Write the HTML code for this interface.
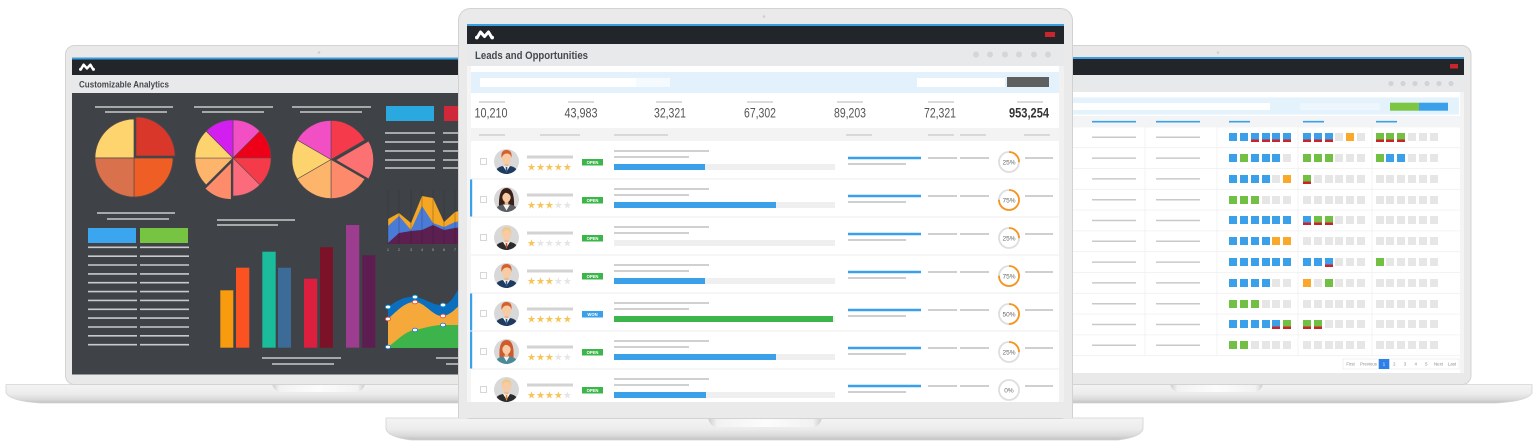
<!DOCTYPE html>
<html><head><meta charset="utf-8">
<style>
html,body{margin:0;padding:0;background:#fff;}
#root{position:relative;width:1536px;height:448px;overflow:hidden;background:#fff;}
#root>svg{position:absolute;left:0;top:0;}
.st{font-family:"DejaVu Sans",sans-serif;font-size:10px;fill:#f6c55a}
.sg{fill:#e6e6e6}
.bd{font-family:"Liberation Sans",sans-serif;font-size:4.2px;font-weight:bold;fill:#fff;text-anchor:middle}
.pc{font-family:"Liberation Sans",sans-serif;font-size:6.5px;fill:#666;text-anchor:middle}
.rg{position:absolute;left:1229.3px;top:133.3px;}
.rw{position:relative;height:20.8px;}
.gp{position:absolute;top:0;left:0;display:flex;gap:2.8px;}
.gp+.gp{left:73.7px}
.gp+.gp+.gp{left:146.4px}
.gp i{display:block;width:8px;height:8px;background:#e6e6e6;}
.gp i.b{background:#3aa0ea}
.gp i.g{background:#72c043}
.gp i.o{background:#f9a82a}
.gp i.u{box-shadow:inset 0 -1.5px #cc2229,0 1px #cc2229}
</style></head><body><div id="root">
<svg width="1536" height="448" viewBox="0 0 1536 448" xmlns="http://www.w3.org/2000/svg">
<defs>
<linearGradient id="bg" x1="0" y1="0" x2="0" y2="1">
<stop offset="0" stop-color="#f4f4f4"/><stop offset="0.5" stop-color="#ececec"/><stop offset="0.8" stop-color="#dadada"/><stop offset="1" stop-color="#c0c0c0"/>
</linearGradient>
<linearGradient id="nt" x1="0" y1="0" x2="1" y2="0">
<stop offset="0" stop-color="#cdcdcd"/><stop offset="0.08" stop-color="#f2f2f2"/><stop offset="0.5" stop-color="#fcfcfc"/><stop offset="0.92" stop-color="#f2f2f2"/><stop offset="1" stop-color="#cdcdcd"/>
</linearGradient>
<clipPath id="ac"><circle cx="0" cy="0" r="12.5"/></clipPath>
</defs>

<!-- ============ LEFT LAPTOP ============ -->
<path d="M6 384.5 H470 V403 H40 Q10 401 6 393 Z" fill="url(#bg)" stroke="#d4d4d4" stroke-width="0.8"/>
<path d="M272 384.5 H365 Q363 391 357 392 H280 Q274 391 272 384.5Z" fill="url(#nt)"/>
<rect x="65.5" y="45.5" width="420" height="339" rx="9" fill="#e9e9e9" stroke="#d3d3d3"/>
<circle cx="319" cy="52.5" r="1.3" fill="#cfcfcf"/>
<rect x="72" y="57.5" width="400" height="2" fill="#3a9fe0"/>
<rect x="72" y="59.5" width="400" height="15.5" fill="#222529"/>
<g transform="translate(79,63) scale(0.84)">
<path d="M2.5 7 L5.5 2 L9.5 6.5 L13.5 2 L16.5 7" fill="none" stroke="#fff" stroke-width="3" stroke-linejoin="round" stroke-linecap="round"/>
<circle cx="1.8" cy="7.6" r="1.8" fill="#fff"/><circle cx="17.2" cy="7.6" r="1.8" fill="#fff"/>
</g>
<rect x="72" y="75" width="400" height="18" fill="#e8e9eb"/>
<text x="79" y="87.5" font-family="Liberation Sans, sans-serif" font-size="9.5" font-weight="bold" fill="#45484c" textLength="90" lengthAdjust="spacingAndGlyphs">Customizable Analytics</text>
<rect x="72" y="93" width="400" height="281.5" fill="#3f4247"/>

<!-- lines -->
<path d="M95 107H173M105 112H167M194 107H273M202 112H264M292 107H371M300 112H362
M385 133H435M385 142H435M385 151H435M385 160H435M385 168H435
M443 133H470M443 142H470M443 151H470M443 160H470M443 168H470
M97 213H175M107 219H169M217 220H295M217 225H278
M88 247.3H137M140 247.3H189M88 256.2H137M140 256.2H189M88 265H137M140 265H189M88 273.9H137M140 273.9H189
M88 282.7H137M140 282.7H189M88 291.6H137M140 291.6H189M88 300.4H137M140 300.4H189M88 309.3H137M140 309.3H189
M88 318.1H137M140 318.1H189M88 327H137M140 327H189M88 335.8H137M140 335.8H189M88 344.7H137M140 344.7H189
M262 358H341M272 364H334M436 358H470M446 364H470" stroke="#c8c9cb" stroke-width="1.6" fill="none"/>

<!-- pie 1 -->
<g stroke="#5a4a48" stroke-width="0.7">
<path d="M134 158 L95 158 A39 39 0 0 1 134 119Z" fill="#fdd46e"/>
<path d="M134 158 L173 158 A39 39 0 0 1 134 197Z" fill="#ee5e25"/>
<path d="M134 158 L134 197 A39 39 0 0 1 95 158Z" fill="#d9714c"/>
<path d="M136 156 L136 117 A39 39 0 0 1 175 156Z" fill="#d8372a"/>
</g>
<!-- pie 2 -->
<g stroke="#5a4a4c" stroke-width="0.6">
<path d="M233 158 L233 120 A38 38 0 0 1 259.87 131.13Z" fill="#f24fc5"/>
<path d="M233 158 L259.87 131.13 A38 38 0 0 1 271 158Z" fill="#ef0019"/>
<path d="M233 158 L271 158 A38 38 0 0 1 259.87 184.87Z" fill="#f53a4a"/>
<path d="M233 158 L259.87 184.87 A38 38 0 0 1 233 196Z" fill="#fb6b7b"/>
<path d="M233 158 L206.13 184.87 A38 38 0 0 1 195 158Z" fill="#fdb56b"/>
<path d="M233 158 L195 158 A38 38 0 0 1 206.13 131.13Z" fill="#fdd36e"/>
<path d="M233 158 L206.13 131.13 A38 38 0 0 1 233 120Z" fill="#d31ef0"/>
</g>
<path d="M231.5 161.7 L231.5 199.7 A38 38 0 0 1 204.63 188.57Z" fill="#fe8c6a" stroke="#3f4247" stroke-width="1.2"/>
<!-- pie 3 -->
<g stroke="#5a4a4c" stroke-width="0.6">
<path d="M331 159.5 L331 120.5 A39 39 0 0 1 364.77 140Z" fill="#f53b4b"/>
<path d="M331 159.5 L364.77 179 A39 39 0 0 1 331 198.5Z" fill="#fd8a6a"/>
<path d="M331 159.5 L331 198.5 A39 39 0 0 1 297.23 179Z" fill="#fdb56b"/>
<path d="M331 159.5 L297.23 179 A39 39 0 0 1 297.23 140Z" fill="#fdd36e"/>
<path d="M331 159.5 L297.23 140 A39 39 0 0 1 331 120.5Z" fill="#f24fc5"/>
</g>
<path d="M335 160 L368.77 140.5 A39 39 0 0 1 368.77 179.5Z" fill="#fc7272" stroke="#3f4247" stroke-width="1.4"/>

<!-- legend rects -->
<rect x="386" y="106" width="48" height="15" fill="#2aa8e0"/>
<rect x="444" y="106" width="26" height="15" fill="#d0283a"/>
<rect x="88" y="228" width="48" height="15" fill="#3ca5ef"/>
<rect x="140" y="228" width="48" height="15" fill="#76c442"/>

<!-- bar chart -->
<rect x="220.3" y="290.3" width="13" height="57.4" fill="#f99b0f"/>
<rect x="236" y="267.7" width="13.3" height="80" fill="#fb5222"/>
<rect x="262.3" y="251.7" width="13.4" height="96" fill="#1abc9c"/>
<rect x="278" y="267.7" width="13" height="80" fill="#3d6b97"/>
<rect x="304" y="278.7" width="13.3" height="69" fill="#dc1f3f"/>
<rect x="320" y="247.3" width="13" height="100.4" fill="#7b1227"/>
<rect x="346" y="225" width="13.3" height="122.7" fill="#9c3d8f"/>
<rect x="362.3" y="255.3" width="13" height="92.4" fill="#5e1d50"/>

<!-- area chart 1 -->
<path d="M388 219 L399 213 L411 223 L422 196 L433 198 L444 222 L455 212 L470 208 V244 H388Z" fill="#f5a623"/>
<path d="M388 226 L399 216 L411 230 L422 206 L433 223 L444 227 L455 222 L470 220 V244 H388Z" fill="#4a7bd6"/>
<path d="M388 243 L399 233 L411 231 L422 230 L433 225 L444 230 L455 228 L470 226 V244 H388Z" fill="#5b1f50"/>
<path d="M388 190V244M399 190V244M411 190V244M422 190V244M433 190V244M444 190V244M455 190V244" stroke="#222428" stroke-opacity="0.45" stroke-width="0.6"/>
<g font-family="Liberation Sans, sans-serif" font-size="4" fill="#aaaaaa" text-anchor="middle">
<text x="388" y="251">1</text><text x="399" y="251">2</text><text x="411" y="251">3</text><text x="422" y="251">4</text><text x="433" y="251">5</text><text x="444" y="251">6</text><text x="455" y="251">7</text>
</g>
<!-- area chart 2 -->
<path d="M388 307 C398 300 405 296 415 297 C425 298 433 306 443 305 C452 304 456 292 464 280 V348 H388Z" fill="#0b6fbf"/>
<path d="M388 319 C398 310 405 302 415 302 C425 302 433 317 443 316 C452 315 458 305 466 300 V348 H388Z" fill="#f6a93b"/>
<path d="M388 347 C398 340 405 331 415 330 C425 328 433 325 443 325 C452 325 460 325 470 325 V348 H388Z" fill="#3cb44b"/>
<g fill="#fff" stroke-width="0.9">
<ellipse cx="388" cy="307" rx="2.6" ry="1.8" stroke="#1a9ad6"/><ellipse cx="415" cy="297" rx="2.6" ry="1.8" stroke="#1a9ad6"/><ellipse cx="443" cy="305" rx="2.6" ry="1.8" stroke="#1a9ad6"/>
<ellipse cx="388" cy="319" rx="2.6" ry="1.8" stroke="#e8503a"/><ellipse cx="415" cy="302" rx="2.6" ry="1.8" stroke="#e8503a"/><ellipse cx="443" cy="316" rx="2.6" ry="1.8" stroke="#e8503a"/>
<ellipse cx="388" cy="347" rx="2.6" ry="1.8" stroke="#2a7ad0"/><ellipse cx="415" cy="330" rx="2.6" ry="1.8" stroke="#2a7ad0"/><ellipse cx="443" cy="325" rx="2.6" ry="1.8" stroke="#2a7ad0"/>
</g>

<!-- ============ RIGHT LAPTOP ============ -->
<path d="M1060 384.5 H1532 V393 Q1528 401 1496 403 H1060Z" fill="url(#bg)" stroke="#d4d4d4" stroke-width="0.8"/>
<path d="M1170 384.5 H1263 Q1261 391 1255 392 H1178 Q1172 391 1170 384.5Z" fill="url(#nt)"/>
<rect x="1050.5" y="45.5" width="420.5" height="339" rx="9" fill="#e9e9e9" stroke="#d3d3d3"/>
<circle cx="1218" cy="52.5" r="1.3" fill="#cfcfcf"/>
<rect x="1055" y="57" width="409" height="2" fill="#3a9fe0"/>
<rect x="1055" y="59" width="409" height="16" fill="#222529"/>
<rect x="1450" y="64" width="8" height="4.5" fill="#c9252c"/>
<rect x="1055" y="75" width="409" height="17" fill="#e8e9eb"/>
<g fill="#d2d3d5"><circle cx="1391" cy="83.5" r="2.6"/><circle cx="1403" cy="83.5" r="2.6"/><circle cx="1415" cy="83.5" r="2.6"/><circle cx="1427" cy="83.5" r="2.6"/><circle cx="1439" cy="83.5" r="2.6"/><circle cx="1451" cy="83.5" r="2.6"/></g>
<rect x="1055" y="92" width="409" height="281" fill="#fff"/>
<rect x="1460" y="92" width="4" height="281" fill="#f4f4f4"/>
<rect x="1055" y="97.5" width="404" height="17" fill="#e3f2fb"/>
<rect x="1055" y="103" width="215" height="7" fill="#fff"/>
<rect x="1300" y="103" width="80" height="7" fill="#edf6fc"/>
<rect x="1390" y="102.7" width="29" height="8" fill="#7cc644"/>
<rect x="1419" y="102.7" width="29" height="8" fill="#3aa0ea"/>
<rect x="1055" y="116" width="405" height="11.5" fill="#f3f4f5"/>
<path d="M1092 121.7h44M1156 121.7h44M1229 121.7h21M1303 121.7h21M1376 121.7h21" stroke="#3aa0ea" stroke-width="1.6"/>
<path d="M1145 127.5V356M1217 127.5V356M1298 127.5V356M1372 127.5V356" stroke="#f0f0f0" stroke-width="0.8"/>
<path d="M1060 147.7H1460M1060 168.5H1460M1060 189.3H1460M1060 210.1H1460M1060 230.9H1460M1060 251.7H1460M1060 272.5H1460M1060 293.3H1460M1060 314.1H1460M1060 334.9H1460M1060 355.7H1460" stroke="#f0f0f0" stroke-width="0.8"/>
<path d="M1092 137.3h44M1156 137.3h44M1092 158.1h44M1156 158.1h44M1092 178.9h44M1156 178.9h44M1092 199.7h44M1156 199.7h44M1092 220.5h44M1156 220.5h44M1092 241.3h44M1156 241.3h44M1092 262.1h44M1156 262.1h44M1092 282.9h44M1156 282.9h44M1092 303.7h44M1156 303.7h44M1092 324.5h44M1156 324.5h44M1092 345.3h44M1156 345.3h44" stroke="#c9c9c9" stroke-width="1.5"/>
<rect x="1343" y="359" width="116" height="10" fill="#fff" stroke="#e6e6e6" stroke-width="0.6"/>
<rect x="1378.7" y="359" width="10.6" height="10" fill="#2f7fe8"/>
<g font-family="Liberation Sans, sans-serif" font-size="4.3" fill="#8a8a8a" text-anchor="middle">
<text x="1350.5" y="365.5">First</text><text x="1368.5" y="365.5">Previous</text><text x="1384" y="365.5" fill="#fff">1</text><text x="1394.3" y="365.5">2</text><text x="1405" y="365.5">3</text><text x="1415.7" y="365.5">4</text><text x="1426.3" y="365.5">5</text><text x="1438.5" y="365.5">Next</text><text x="1452" y="365.5">Last</text>
</g>

<!-- ============ CENTER LAPTOP ============ -->
<path d="M386 418 H1143 V429 Q1141 437 1118 440 H411 Q388 437 386 429Z" fill="url(#bg)" stroke="#d2d2d2" stroke-width="0.8"/>
<path d="M708 418 H822 Q820 426 814 427 H716 Q710 426 708 418Z" fill="url(#nt)"/>
<rect x="458.5" y="8.5" width="614" height="410" rx="12" fill="#eaeaea" stroke="#d2d2d2"/>
<circle cx="764" cy="16.5" r="1.3" fill="#cfcfcf"/>
<rect x="467" y="24" width="597" height="2" fill="#3a9fe0"/>
<rect x="467" y="26" width="597" height="18" fill="#222529"/>
<g transform="translate(475,30)">
<path d="M2.5 7 L5.5 2 L9.5 6.5 L13.5 2 L16.5 7" fill="none" stroke="#fff" stroke-width="3" stroke-linejoin="round" stroke-linecap="round"/>
<circle cx="1.8" cy="7.6" r="1.8" fill="#fff"/><circle cx="17.2" cy="7.6" r="1.8" fill="#fff"/>
</g>
<rect x="1045" y="32" width="10" height="5" fill="#c9252c"/>
<rect x="467" y="44" width="597" height="22" fill="#e8e9eb"/>
<text x="475" y="59" font-family="Liberation Sans, sans-serif" font-size="11" font-weight="bold" fill="#45484c" textLength="113" lengthAdjust="spacingAndGlyphs">Leads and Opportunities</text>
<g fill="#d5d6d8"><circle cx="976" cy="54.5" r="3"/><circle cx="990" cy="54.5" r="3"/><circle cx="1005" cy="54.5" r="3"/><circle cx="1019" cy="54.5" r="3"/><circle cx="1034" cy="54.5" r="3"/><circle cx="1048" cy="54.5" r="3"/></g>
<rect x="467" y="66" width="597" height="336" fill="#fff"/>
<rect x="467" y="66" width="4" height="336" fill="#f5f5f5"/>
<rect x="1059" y="66" width="5" height="336" fill="#f1f1f1"/>
<rect x="471" y="72" width="588" height="21" fill="#e2f1fb"/>
<rect x="480" y="78" width="156" height="9" fill="#fff"/>
<rect x="636" y="78" width="34" height="9" fill="#f4fafe"/>
<rect x="917" y="78" width="88" height="9" fill="#fff"/>
<rect x="1007" y="77" width="42" height="10" fill="#5f5f5f"/>
<path d="M479 102h26M568 102h26M656 102h26M747 102h26M837 102h26M928 102h26M1017 102h26" stroke="#cfcfcf" stroke-width="1.6"/>
<g font-family="Liberation Sans, sans-serif" font-size="14" fill="#555">
<text x="474.5" y="117.5" textLength="33" lengthAdjust="spacingAndGlyphs">10,210</text>
<text x="564.5" y="117.5" textLength="33" lengthAdjust="spacingAndGlyphs">43,983</text>
<text x="654" y="117.5" textLength="32" lengthAdjust="spacingAndGlyphs">32,321</text>
<text x="744" y="117.5" textLength="32" lengthAdjust="spacingAndGlyphs">67,302</text>
<text x="834" y="117.5" textLength="32" lengthAdjust="spacingAndGlyphs">89,203</text>
<text x="924" y="117.5" textLength="32" lengthAdjust="spacingAndGlyphs">72,321</text>
<text x="1009" y="117.5" font-weight="bold" fill="#333" textLength="40" lengthAdjust="spacingAndGlyphs">953,254</text>
</g>
<rect x="471" y="128" width="588" height="13" fill="#f3f3f3"/>
<path d="M479 135h26M540 135h40M614 135h54M846 135h26M928 135h26M960 135h26M1024 135h26" stroke="#d0d0d0" stroke-width="1.5"/>

<!-- Row 1 -->
<g transform="translate(0,141)">
<rect x="480.5" y="17.5" width="6" height="6" fill="#fff" stroke="#cdcdcd" stroke-width="0.8"/>
<g transform="translate(506.5,20.5)"><circle r="12.5" fill="#d8d8d8"/><g clip-path="url(#ac)">
<path d="M-12 13 Q-11 5.5 -3.5 4.5 L3.5 4.5 Q11 5.5 12 13Z" fill="#1e3a5f"/><path d="M-3.5 4.5 L0 10 L3.5 4.5Z" fill="#fff"/><path d="M-0.9 5.5 L0.9 5.5 L0.6 11 L-0.6 11Z" fill="#2d5b8f"/>
<rect x="-2" y="0" width="4" height="5" fill="#ecb88e"/><ellipse cx="0" cy="-3" rx="4.6" ry="5.6" fill="#f7cba3"/>
<path d="M-5 -3.5 Q-6 -11.5 0 -11.5 Q6 -11.5 5 -3.5 Q4.5 -7.5 1 -8 Q-3 -8.5 -5 -3.5Z" fill="#d6602c"/></g></g>
<path d="M527 16h46" stroke="#d3d3d3" stroke-width="3"/>
<text x="527" y="29.5" class="st">★★★★★</text>
<rect x="582" y="18" width="21" height="6.5" fill="#3cb54a"/><text x="592.5" y="22.8" class="bd">OPEN</text>
<path d="M614 10h95M614 16h75" stroke="#d0d0d0" stroke-width="2"/>
<rect x="614" y="23" width="221" height="6" fill="#efefef"/><rect x="614" y="23" width="91" height="6" fill="#3aa0ea"/>
<path d="M848 17h73" stroke="#3aa0ea" stroke-width="2.5"/>
<path d="M848 23h58M928 17h29M960 17h29M1025 17h28" stroke="#cfcfcf" stroke-width="2"/>
<circle cx="1009" cy="21" r="10" fill="#fff" stroke="#dedede" stroke-width="1.8"/>
<circle cx="1009" cy="21" r="10" fill="none" stroke="#f7941d" stroke-width="1.8" stroke-dasharray="15.7 62.8" transform="rotate(-90 1009 21)"/>
<text x="1009" y="23.3" class="pc">25%</text>
<path d="M471 38h588" stroke="#eeeeee"/>
</g>

<!-- Row 2 -->
<g transform="translate(0,179)">
<rect x="470" y="0.5" width="2.2" height="37" fill="#3aa0ea"/>
<rect x="480.5" y="17.5" width="6" height="6" fill="#fff" stroke="#cdcdcd" stroke-width="0.8"/>
<g transform="translate(506.5,20.5)"><circle r="12.5" fill="#d8d8d8"/><g clip-path="url(#ac)">
<path d="M-7.5 9 Q-8.5 -11.5 0 -11.5 Q8.5 -11.5 7.5 9Z" fill="#3a2019"/>
<path d="M-12 13 Q-11 6 -3.5 5 L3.5 5 Q11 6 12 13Z" fill="#5a5e63"/><path d="M-3.5 5 L0 11 L3.5 5Z" fill="#f4f4f4"/>
<rect x="-1.8" y="0" width="3.6" height="5.5" fill="#ecb88e"/><ellipse cx="0" cy="-2.5" rx="4.2" ry="5.3" fill="#f7cba3"/>
<path d="M-4.6 -2 Q-5 -9.5 0 -9.5 Q5 -9.5 4.6 -2 Q3 -6.5 -1 -6.8 Q-3.5 -5.5 -4.6 -2Z" fill="#3a2019"/></g></g>
<path d="M527 16h46" stroke="#d3d3d3" stroke-width="3"/>
<text x="527" y="29.5" class="st">★★★<tspan class="sg">★★</tspan></text>
<rect x="582" y="18" width="21" height="6.5" fill="#3cb54a"/><text x="592.5" y="22.8" class="bd">OPEN</text>
<path d="M614 10h95M614 16h75" stroke="#d0d0d0" stroke-width="2"/>
<rect x="614" y="23" width="221" height="6" fill="#efefef"/><rect x="614" y="23" width="162" height="6" fill="#3aa0ea"/>
<path d="M848 17h73" stroke="#3aa0ea" stroke-width="2.5"/>
<path d="M848 23h58M928 17h29M960 17h29M1025 17h28" stroke="#cfcfcf" stroke-width="2"/>
<circle cx="1009" cy="21" r="10" fill="#fff" stroke="#dedede" stroke-width="1.8"/>
<circle cx="1009" cy="21" r="10" fill="none" stroke="#f7941d" stroke-width="1.8" stroke-dasharray="47.1 62.8" transform="rotate(-90 1009 21)"/>
<text x="1009" y="23.3" class="pc">75%</text>
<path d="M471 38h588" stroke="#eeeeee"/>
</g>

<!-- Row 3 -->
<g transform="translate(0,217)">
<rect x="480.5" y="17.5" width="6" height="6" fill="#fff" stroke="#cdcdcd" stroke-width="0.8"/>
<g transform="translate(506.5,20.5)"><circle r="12.5" fill="#d8d8d8"/><g clip-path="url(#ac)">
<path d="M-12 13 Q-11 5.5 -3.5 4.5 L3.5 4.5 Q11 5.5 12 13Z" fill="#2b2b2e"/><path d="M-3.5 4.5 L0 10 L3.5 4.5Z" fill="#fff"/><path d="M-0.9 5.5 L0.9 5.5 L0.6 11 L-0.6 11Z" fill="#d4452a"/>
<rect x="-2" y="0" width="4" height="5" fill="#ecb88e"/><ellipse cx="0" cy="-3" rx="4.6" ry="5.6" fill="#f7cba3"/>
<path d="M-4.8 -3 Q-5.2 -10.5 0 -10.5 Q5.2 -10.5 4.8 -3 Q4 -7 0 -7.5 Q-4 -7 -4.8 -3Z" fill="#eec98a"/></g></g>
<path d="M527 16h46" stroke="#d3d3d3" stroke-width="3"/>
<text x="527" y="29.5" class="st">★<tspan class="sg">★★★★</tspan></text>
<rect x="582" y="18" width="21" height="6.5" fill="#3cb54a"/><text x="592.5" y="22.8" class="bd">OPEN</text>
<path d="M614 10h95M614 16h75" stroke="#d0d0d0" stroke-width="2"/>
<rect x="614" y="23" width="221" height="6" fill="#efefef"/>
<path d="M848 17h73" stroke="#3aa0ea" stroke-width="2.5"/>
<path d="M848 23h58M928 17h29M960 17h29M1025 17h28" stroke="#cfcfcf" stroke-width="2"/>
<circle cx="1009" cy="21" r="10" fill="#fff" stroke="#dedede" stroke-width="1.8"/>
<circle cx="1009" cy="21" r="10" fill="none" stroke="#f7941d" stroke-width="1.8" stroke-dasharray="15.7 62.8" transform="rotate(-90 1009 21)"/>
<text x="1009" y="23.3" class="pc">25%</text>
<path d="M471 38h588" stroke="#eeeeee"/>
</g>

<!-- Row 4 -->
<g transform="translate(0,255)">
<rect x="480.5" y="17.5" width="6" height="6" fill="#fff" stroke="#cdcdcd" stroke-width="0.8"/>
<g transform="translate(506.5,20.5)"><circle r="12.5" fill="#d8d8d8"/><g clip-path="url(#ac)">
<path d="M-12 13 Q-11 5.5 -3.5 4.5 L3.5 4.5 Q11 5.5 12 13Z" fill="#1e3a5f"/><path d="M-3.5 4.5 L0 10 L3.5 4.5Z" fill="#fff"/><path d="M-0.9 5.5 L0.9 5.5 L0.6 11 L-0.6 11Z" fill="#2d5b8f"/>
<rect x="-2" y="0" width="4" height="5" fill="#ecb88e"/><ellipse cx="0" cy="-3" rx="4.6" ry="5.6" fill="#f7cba3"/>
<path d="M-5 -3.5 Q-6 -11.5 0 -11.5 Q6 -11.5 5 -3.5 Q4.5 -7.5 1 -8 Q-3 -8.5 -5 -3.5Z" fill="#d6602c"/></g></g>
<path d="M527 16h46" stroke="#d3d3d3" stroke-width="3"/>
<text x="527" y="29.5" class="st">★★★<tspan class="sg">★★</tspan></text>
<rect x="582" y="18" width="21" height="6.5" fill="#3cb54a"/><text x="592.5" y="22.8" class="bd">OPEN</text>
<path d="M614 10h95M614 16h75" stroke="#d0d0d0" stroke-width="2"/>
<rect x="614" y="23" width="221" height="6" fill="#efefef"/><rect x="614" y="23" width="91" height="6" fill="#3aa0ea"/>
<path d="M848 17h73" stroke="#3aa0ea" stroke-width="2.5"/>
<path d="M848 23h58M928 17h29M960 17h29M1025 17h28" stroke="#cfcfcf" stroke-width="2"/>
<circle cx="1009" cy="21" r="10" fill="#fff" stroke="#dedede" stroke-width="1.8"/>
<circle cx="1009" cy="21" r="10" fill="none" stroke="#f7941d" stroke-width="1.8" stroke-dasharray="47.1 62.8" transform="rotate(-90 1009 21)"/>
<text x="1009" y="23.3" class="pc">75%</text>
<path d="M471 38h588" stroke="#eeeeee"/>
</g>

<!-- Row 5 -->
<g transform="translate(0,293)">
<rect x="470" y="0.5" width="2.2" height="37" fill="#3aa0ea"/>
<rect x="480.5" y="17.5" width="6" height="6" fill="#fff" stroke="#cdcdcd" stroke-width="0.8"/>
<g transform="translate(506.5,20.5)"><circle r="12.5" fill="#d8d8d8"/><g clip-path="url(#ac)">
<path d="M-12 13 Q-11 5.5 -3.5 4.5 L3.5 4.5 Q11 5.5 12 13Z" fill="#1e3a5f"/><path d="M-3.5 4.5 L0 10 L3.5 4.5Z" fill="#fff"/><path d="M-0.9 5.5 L0.9 5.5 L0.6 11 L-0.6 11Z" fill="#2d5b8f"/>
<rect x="-2" y="0" width="4" height="5" fill="#ecb88e"/><ellipse cx="0" cy="-3" rx="4.6" ry="5.6" fill="#f7cba3"/>
<path d="M-5 -3.5 Q-6 -11.5 0 -11.5 Q6 -11.5 5 -3.5 Q4.5 -7.5 1 -8 Q-3 -8.5 -5 -3.5Z" fill="#d6602c"/></g></g>
<path d="M527 16h46" stroke="#d3d3d3" stroke-width="3"/>
<text x="527" y="29.5" class="st">★★★★★</text>
<rect x="582" y="18" width="21" height="6.5" fill="#3aa0ea"/><text x="592.5" y="22.8" class="bd">WON</text>
<path d="M614 10h95M614 16h75" stroke="#d0d0d0" stroke-width="2"/>
<rect x="614" y="23" width="221" height="6" fill="#efefef"/><rect x="614" y="23" width="219" height="6" fill="#3cb54a"/>
<path d="M848 17h73" stroke="#3aa0ea" stroke-width="2.5"/>
<path d="M848 23h58M928 17h29M960 17h29M1025 17h28" stroke="#cfcfcf" stroke-width="2"/>
<circle cx="1009" cy="21" r="10" fill="#fff" stroke="#dedede" stroke-width="1.8"/>
<circle cx="1009" cy="21" r="10" fill="none" stroke="#f7941d" stroke-width="1.8" stroke-dasharray="31.4 62.8" transform="rotate(-90 1009 21)"/>
<text x="1009" y="23.3" class="pc">50%</text>
<path d="M471 38h588" stroke="#eeeeee"/>
</g>

<!-- Row 6 -->
<g transform="translate(0,331)">
<rect x="470" y="0.5" width="2.2" height="37" fill="#3aa0ea"/>
<rect x="480.5" y="17.5" width="6" height="6" fill="#fff" stroke="#cdcdcd" stroke-width="0.8"/>
<g transform="translate(506.5,20.5)"><circle r="12.5" fill="#d8d8d8"/><g clip-path="url(#ac)">
<path d="M-7 6 Q-8 -11.5 0 -11.5 Q8 -11.5 7 6Z" fill="#cf5a2c"/>
<path d="M-12 13 Q-11 6 -3.5 5 L3.5 5 Q11 6 12 13Z" fill="#4b8a98"/><path d="M-3 5 L0 10 L3 5Z" fill="#f4f4f4"/>
<rect x="-1.8" y="0" width="3.6" height="5.5" fill="#ecb88e"/><ellipse cx="0" cy="-2.5" rx="4.2" ry="5.3" fill="#f7cba3"/>
<path d="M-4.6 -2 Q-5 -9.5 0 -9.5 Q5 -9.5 4.6 -2 Q3 -6.5 -1 -6.8 Q-3.5 -5.5 -4.6 -2Z" fill="#cf5a2c"/></g></g>
<path d="M527 16h46" stroke="#d3d3d3" stroke-width="3"/>
<text x="527" y="29.5" class="st">★★★<tspan class="sg">★★</tspan></text>
<rect x="582" y="18" width="21" height="6.5" fill="#3cb54a"/><text x="592.5" y="22.8" class="bd">OPEN</text>
<path d="M614 10h95M614 16h75" stroke="#d0d0d0" stroke-width="2"/>
<rect x="614" y="23" width="221" height="6" fill="#efefef"/><rect x="614" y="23" width="162" height="6" fill="#3aa0ea"/>
<path d="M848 17h73" stroke="#3aa0ea" stroke-width="2.5"/>
<path d="M848 23h58M928 17h29M960 17h29M1025 17h28" stroke="#cfcfcf" stroke-width="2"/>
<circle cx="1009" cy="21" r="10" fill="#fff" stroke="#dedede" stroke-width="1.8"/>
<circle cx="1009" cy="21" r="10" fill="none" stroke="#f7941d" stroke-width="1.8" stroke-dasharray="15.7 62.8" transform="rotate(-90 1009 21)"/>
<text x="1009" y="23.3" class="pc">25%</text>
<path d="M471 38h588" stroke="#eeeeee"/>
</g>

<!-- Row 7 -->
<g transform="translate(0,369)">
<rect x="480.5" y="17.5" width="6" height="6" fill="#fff" stroke="#cdcdcd" stroke-width="0.8"/>
<g transform="translate(506.5,20.5)"><circle r="12.5" fill="#d8d8d8"/><g clip-path="url(#ac)">
<path d="M-12 13 Q-11 5.5 -3.5 4.5 L3.5 4.5 Q11 5.5 12 13Z" fill="#2b2b2e"/><path d="M-3.5 4.5 L0 10 L3.5 4.5Z" fill="#fff"/><path d="M-0.9 5.5 L0.9 5.5 L0.6 11 L-0.6 11Z" fill="#e08a2a"/>
<rect x="-2" y="0" width="4" height="5" fill="#ecb88e"/><ellipse cx="0" cy="-3" rx="4.6" ry="5.6" fill="#f7cba3"/>
<path d="M-4.8 -3 Q-5.2 -10.5 0 -10.5 Q5.2 -10.5 4.8 -3 Q4 -7 0 -7.5 Q-4 -7 -4.8 -3Z" fill="#eec98a"/></g></g>
<path d="M527 16h46" stroke="#d3d3d3" stroke-width="3"/>
<text x="527" y="29.5" class="st">★★★★<tspan class="sg">★</tspan></text>
<rect x="582" y="18" width="21" height="6.5" fill="#3cb54a"/><text x="592.5" y="22.8" class="bd">OPEN</text>
<path d="M614 10h95M614 16h75" stroke="#d0d0d0" stroke-width="2"/>
<rect x="614" y="23" width="221" height="6" fill="#efefef"/><rect x="614" y="23" width="92" height="6" fill="#3aa0ea"/>
<path d="M848 17h73" stroke="#3aa0ea" stroke-width="2.5"/>
<path d="M848 23h58M928 17h29M960 17h29M1025 17h28" stroke="#cfcfcf" stroke-width="2"/>
<circle cx="1009" cy="21" r="10" fill="#fff" stroke="#dedede" stroke-width="1.8"/>
<text x="1009" y="23.3" class="pc">0%</text>
</g>
<!-- bottom bezel of center screen (covers overflow) -->
<rect x="459" y="402" width="613" height="16" fill="#eaeaea"/>
<path d="M458.5 402V418M1072.5 402V418" stroke="#d2d2d2"/>
</svg>

<!-- right laptop status grid -->
<div class="rg">
<div class="rw"><div class="gp"><i class="b"></i><i class="b"></i><i class="b u"></i><i class="b u"></i><i class="b u"></i><i class="b u"></i></div><div class="gp"><i class="b u"></i><i class="b u"></i><i class="b u"></i><i></i><i class="o"></i><i></i></div><div class="gp"><i class="g u"></i><i class="g u"></i><i class="g u"></i><i></i><i></i><i></i></div></div>
<div class="rw"><div class="gp"><i class="b"></i><i class="g"></i><i class="b"></i><i class="b"></i><i class="b"></i><i></i></div><div class="gp"><i class="g"></i><i class="g"></i><i class="g"></i><i></i><i></i><i></i></div><div class="gp"><i class="g"></i><i class="b"></i><i class="b"></i><i></i><i></i><i></i></div></div>
<div class="rw"><div class="gp"><i class="b"></i><i class="b"></i><i class="b"></i><i class="b"></i><i></i><i class="o"></i></div><div class="gp"><i class="g u"></i><i></i><i></i><i></i><i></i><i></i></div><div class="gp"><i></i><i></i><i></i><i></i><i></i><i></i></div></div>
<div class="rw"><div class="gp"><i class="g"></i><i class="g"></i><i class="g"></i><i></i><i></i><i></i></div><div class="gp"><i></i><i></i><i></i><i></i><i></i><i></i></div><div class="gp"><i></i><i></i><i></i><i></i><i></i><i></i></div></div>
<div class="rw"><div class="gp"><i class="b"></i><i class="b"></i><i class="b"></i><i class="b"></i><i class="b"></i><i class="b"></i></div><div class="gp"><i class="b u"></i><i class="g u"></i><i class="g u"></i><i></i><i></i><i></i></div><div class="gp"><i></i><i></i><i></i><i></i><i></i><i></i></div></div>
<div class="rw"><div class="gp"><i class="b"></i><i class="b"></i><i class="b"></i><i class="b"></i><i class="o"></i><i class="o"></i></div><div class="gp"><i></i><i></i><i></i><i></i><i></i><i></i></div><div class="gp"><i></i><i></i><i></i><i></i><i></i><i></i></div></div>
<div class="rw"><div class="gp"><i class="b"></i><i class="b"></i><i class="b"></i><i class="b"></i><i class="b"></i><i class="b"></i></div><div class="gp"><i class="b"></i><i class="b"></i><i class="b u"></i><i></i><i></i><i></i></div><div class="gp"><i class="g"></i><i></i><i></i><i></i><i></i><i></i></div></div>
<div class="rw"><div class="gp"><i class="b"></i><i class="b"></i><i class="b"></i><i class="b"></i><i></i><i></i></div><div class="gp"><i class="o"></i><i></i><i class="g"></i><i></i><i></i><i></i></div><div class="gp"><i></i><i></i><i></i><i></i><i></i><i></i></div></div>
<div class="rw"><div class="gp"><i class="g"></i><i class="g"></i><i class="g"></i><i></i><i></i><i></i></div><div class="gp"><i></i><i></i><i></i><i></i><i></i><i></i></div><div class="gp"><i></i><i></i><i></i><i></i><i></i><i></i></div></div>
<div class="rw"><div class="gp"><i class="b"></i><i class="b"></i><i class="b"></i><i class="b"></i><i class="b u"></i><i class="g u"></i></div><div class="gp"><i class="g u"></i><i class="g u"></i><i></i><i></i><i></i><i></i></div><div class="gp"><i></i><i></i><i></i><i></i><i></i><i></i></div></div>
<div class="rw"><div class="gp"><i class="g"></i><i class="g"></i><i></i><i></i><i></i><i></i></div><div class="gp"><i></i><i></i><i></i><i></i><i></i><i></i></div><div class="gp"><i></i><i></i><i></i><i></i><i></i><i></i></div></div>
</div>
</div></body></html>
